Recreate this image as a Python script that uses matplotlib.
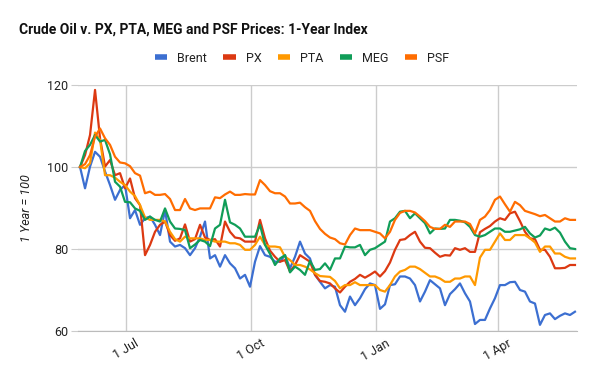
import numpy as np
import pandas as pd
import matplotlib
matplotlib.use("Agg")
import matplotlib.pyplot as plt
import matplotlib.dates as mdates
from matplotlib.lines import Line2D

plt.rcParams['font.family'] = ['Roboto', 'DejaVu Sans']

title = "Crude Oil v. PX, PTA, MEG and PSF Prices: 1-Year Index"
ylabel = "1 Year = 100"
series_names = ["Brent", "PX", "PTA", "MEG", "PSF"]
start_date = "2018-05-28"
end_date = "2019-05-28"
n_points = 100

brent = [100, 94.8, 100.1, 103.7, 102.5, 98.9, 95.6, 92.0, 94.4, 95.6, 87.5, 89.5, 85.9, 87.5, 87.9, 85.9, 83.4, 89.5, 81.8, 80.6,
         81.0, 80.2, 78.5, 80.2, 83.0, 86.7, 77.7, 78.5, 75.7, 78.5, 76.5, 75.3, 72.8, 73.7, 70.8, 76.9, 80.7, 78.5, 78.1, 76.9,
         76.9, 78.5, 75.3, 78.1, 81.8, 78.9, 77.7, 73.7, 72.0, 70.4, 71.2, 70.8, 66.3, 64.7, 68.4, 66.3, 68.0, 70.2, 71.6, 71.2,
         65.4, 66.5, 71.2, 71.4, 73.3, 73.3, 72.8, 71.2, 67.2, 69.6, 72.4, 71.4, 70.4, 66.3, 69.0, 70.2, 71.6, 69.2, 67.2, 61.7,
         62.7, 62.7, 65.5, 68.0, 71.2, 71.2, 71.9, 72.0, 70.0, 69.6, 67.2, 66.7, 61.5, 63.9, 64.3, 62.9, 63.7, 64.3, 63.9, 64.7]
px = [100, 102.9, 107.8, 118.8, 107.0, 100.1, 101.7, 98.0, 98.5, 94.8, 97.2, 92.4, 90.7, 78.5, 81.0, 84.2, 85.9, 86.7, 83.4, 82.0,
      82.6, 86.0, 81.8, 82.4, 85.9, 82.8, 82.2, 82.4, 80.6, 86.7, 84.2, 82.8, 82.6, 81.8, 81.8, 81.8, 87.1, 82.6, 79.6, 78.1,
      76.9, 77.3, 74.5, 76.1, 78.5, 77.7, 76.9, 73.7, 72.2, 72.0, 71.6, 70.4, 69.4, 70.8, 72.0, 72.7, 73.7, 73.0, 73.7, 74.5,
      73.3, 74.6, 76.7, 79.8, 82.2, 82.4, 83.4, 84.2, 81.8, 80.3, 80.2, 79.1, 78.1, 78.5, 78.4, 80.2, 79.8, 80.2, 79.3, 79.3,
      84.1, 84.9, 85.6, 86.7, 87.5, 87.1, 88.7, 89.1, 86.8, 84.2, 82.6, 82.4, 79.8, 79.8, 78.1, 75.3, 75.3, 75.4, 76.1, 76.1]
pta = [100, 99.7, 100.9, 108.4, 106.6, 98.0, 98.0, 97.4, 96.4, 95.6, 94.0, 92.9, 90.7, 87.7, 87.1, 87.1, 87.1, 86.7, 84.2, 82.4,
       81.8, 83.0, 82.6, 82.6, 82.6, 82.2, 82.2, 81.8, 81.8, 81.8, 81.4, 81.4, 81.0, 79.8, 79.8, 81.0, 83.0, 81.0, 80.6, 80.6,
       80.4, 78.1, 77.3, 76.1, 76.1, 75.7, 75.0, 74.1, 73.4, 73.3, 73.2, 72.2, 70.4, 71.2, 71.2, 71.9, 71.2, 71.2, 71.2, 71.2,
       70.0, 69.6, 71.2, 73.3, 74.5, 74.9, 75.7, 75.7, 75.1, 74.2, 73.3, 73.3, 72.8, 72.0, 72.0, 72.8, 72.8, 73.3, 73.3, 71.2,
       77.9, 79.8, 79.8, 81.8, 83.8, 82.2, 82.2, 83.4, 83.4, 83.4, 82.6, 81.6, 79.3, 80.6, 80.6, 78.9, 78.9, 78.1, 77.7, 77.7]
meg = [100, 103.9, 105.4, 107.8, 106.2, 106.6, 103.1, 96.4, 95.2, 91.5, 91.4, 89.9, 89.3, 87.1, 87.9, 87.1, 86.7, 89.9, 86.7, 85.0,
       84.9, 84.6, 80.2, 81.1, 82.2, 81.8, 80.7, 85.0, 85.9, 92.0, 86.5, 85.9, 85.0, 83.0, 83.0, 83.0, 85.9, 81.0, 78.8, 76.1,
       77.7, 78.5, 74.3, 75.7, 74.9, 73.7, 77.1, 74.9, 75.1, 76.5, 74.9, 77.7, 77.7, 80.6, 80.4, 80.4, 81.0, 78.5, 79.8, 80.2,
       81.0, 81.8, 86.7, 87.5, 89.1, 89.3, 87.5, 88.7, 87.5, 86.3, 83.8, 85.0, 84.9, 85.0, 87.1, 87.1, 86.9, 86.5, 85.4, 83.4,
       83.0, 83.4, 84.2, 85.0, 85.0, 84.2, 84.2, 84.5, 84.8, 85.4, 83.8, 82.8, 83.3, 85.0, 84.6, 85.2, 84.0, 81.8, 80.2, 80.0]
psf = [100, 100.7, 102.9, 107.4, 109.4, 107.0, 105.4, 102.5, 101.1, 100.9, 100.2, 98.5, 97.9, 93.6, 94.0, 93.2, 93.2, 93.4, 92.2, 89.5,
       89.5, 92.2, 89.9, 89.5, 89.9, 89.9, 89.9, 92.6, 92.4, 93.3, 94.0, 93.2, 93.2, 93.4, 93.3, 93.3, 96.8, 95.6, 94.1, 93.6,
       93.6, 92.8, 91.1, 91.1, 91.3, 90.2, 89.3, 86.8, 84.9, 83.7, 82.8, 82.4, 81.4, 81.1, 83.4, 85.0, 84.6, 84.6, 84.6, 84.2,
       83.8, 82.6, 84.2, 87.1, 88.8, 89.3, 89.3, 88.9, 87.9, 86.8, 85.4, 84.9, 84.9, 85.9, 85.4, 86.7, 86.7, 86.7, 86.1, 83.8,
       87.1, 87.9, 89.5, 92.0, 92.8, 90.9, 89.1, 91.5, 90.7, 89.3, 88.9, 88.5, 88.0, 88.3, 87.5, 86.7, 86.7, 87.5, 87.1, 87.1]

colors = ["#3c6fd1", "#dc3912", "#ff9900", "#109d58", "#ff6d01"]

t0 = pd.Timestamp(start_date)
t1 = pd.Timestamp(end_date)
dates = pd.to_datetime(np.linspace(t0.value, t1.value, n_points))

fig = plt.figure(figsize=(5.95, 3.78), dpi=100)
ax = fig.add_axes([78/595, 1-331/378, (577-78)/595, (331-85)/378])

for name, vals, c in zip(series_names, [brent, px, pta, meg, psf], colors):
    ax.plot(dates, vals, color=c, lw=1.6, label=name, solid_joinstyle='round')

ax.set_ylim(60, 120)
ax.set_yticks([60, 80, 100, 120])
ax.set_xlim(t0 - pd.Timedelta(days=1.5), t1 + pd.Timedelta(days=1.5))
ticks = pd.to_datetime(["2018-07-01", "2018-10-01", "2019-01-01", "2019-04-01"])
ax.set_xticks(ticks)
ax.set_xticklabels(["1 Jul", "1 Oct", "1 Jan", "1 Apr"], rotation=30, ha='center')

ax.grid(True, color="#cccccc", lw=1)
ax.set_axisbelow(True)
for s in ["top", "right", "left"]:
    ax.spines[s].set_visible(False)
ax.spines["bottom"].set_color("#bbbbbb")
ax.tick_params(axis='y', length=5, color="#cccccc", labelsize=9, labelcolor="#222222", pad=2)
ax.tick_params(axis='x', length=0, labelsize=9, labelcolor="#222222", pad=4)

fig.text(27/595, 1-208/378, ylabel, rotation=90, fontstyle='italic', fontsize=9,
         color="#222222", ha='center', va='center')
fig.text(19/595, 1-30/378, title, fontweight='bold', fontsize=10, color="#111111",
         ha='left', va='center')

handles = [Line2D([0], [0], color=c, lw=4, solid_capstyle='butt') for c in colors]
fig.legend(handles, series_names, loc='center', bbox_to_anchor=(302/595, 1-58/378),
           ncol=5, frameon=False, fontsize=9, handlelength=1.0, handletextpad=0.8,
           columnspacing=1.3, labelcolor="#222222")

fig.savefig("out.png", dpi=100)
